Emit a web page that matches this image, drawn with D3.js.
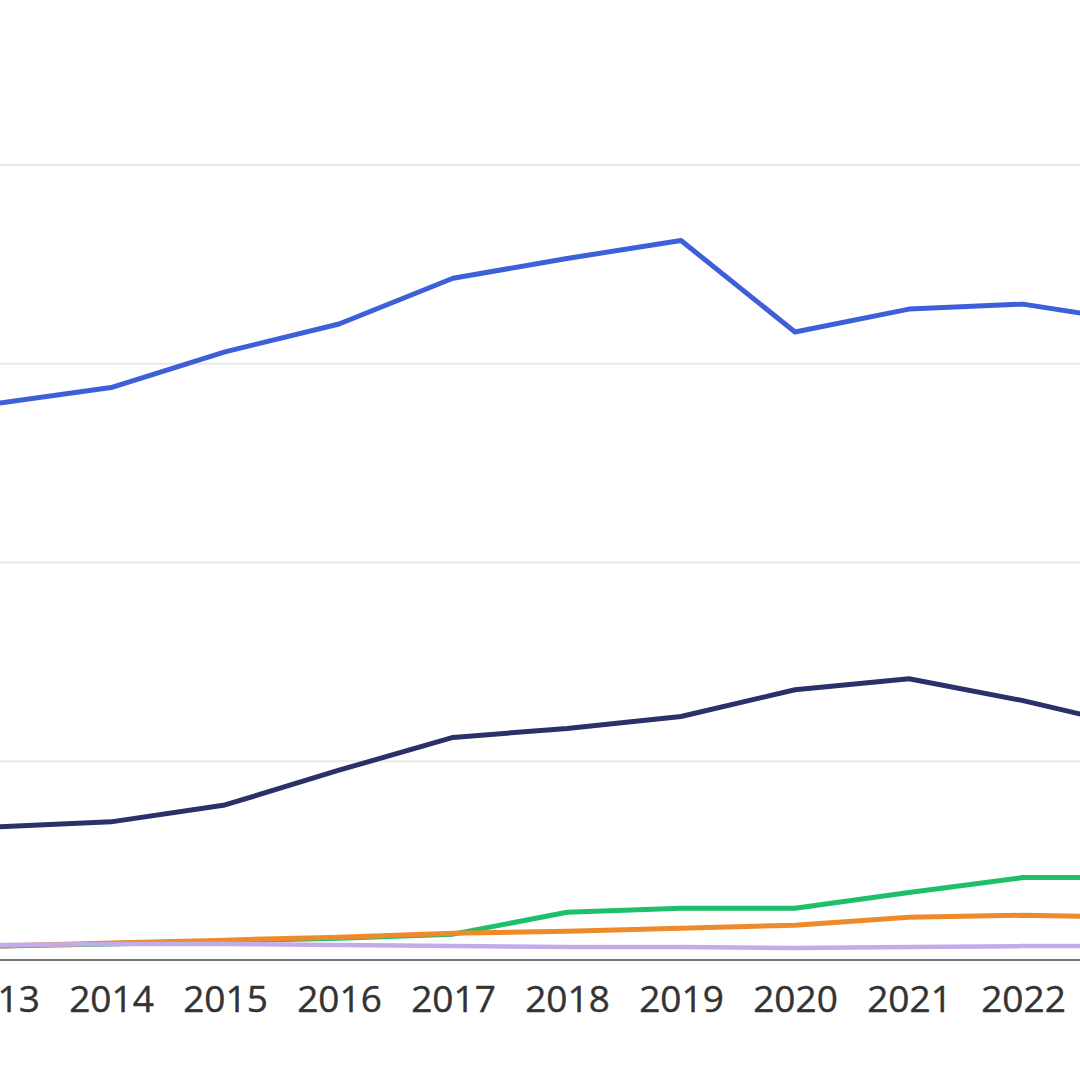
<!DOCTYPE html>
<html>
<head>
<meta charset="utf-8">
<script src="https://cdn.jsdelivr.net/npm/d3@7"></script>
<style>
  html, body { margin: 0; padding: 0; background: #fff; overflow: hidden; }
  svg { display: block; }
</style>
</head>
<body>
<svg id="chart" width="1080" height="1080"></svg>
<script>
// ---- Dados (unidade: divisões de grade x100)
const years = [2013, 2014, 2015, 2016, 2017, 2018, 2019, 2020, 2021, 2022, 2023];
const tickYears = [2013, 2014, 2015, 2016, 2017, 2018, 2019, 2020, 2021, 2022];
const yTicks = [0, 100, 200, 300, 400, 500];

const serieAzul    = [280, 288, 306, 320, 343, 353, 362, 316, 327.5, 330, 321];
const serieMarinho = [67, 69.5, 78, 95.5, 112, 116.5, 122.5, 136, 141.5, 130.5, 117];
const serieVerde   = [7, 8, 9.5, 11, 13, 24, 26, 26, 34, 41.5, 41.5];
const serieLaranja = [7, 8.5, 10, 11.5, 13.5, 14.5, 16, 17.5, 21.5, 22.5, 21.5];
const serieLilas   = [7.5, 8, 8, 7.5, 7, 6.5, 6.5, 6, 6.5, 7, 7];

const series = [
    { name: 'azul', values: serieAzul, color: '#3d5fd9', width: 5 },
    { name: 'marinho', values: serieMarinho, color: '#2a3068', width: 5 },
    { name: 'verde', values: serieVerde, color: '#1dbf69', width: 5 },
    { name: 'laranja', values: serieLaranja, color: '#ef8a2b', width: 5 },
    { name: 'lilas', values: serieLilas, color: '#c3abe9', width: 4.5 }
];

const svg = d3.select('#chart');

// ---- Escalas (o gráfico original está recortado nas bordas)
const x = d3.scaleLinear()
    .domain([2013, 2023])
    .range([-3, 1137]);

const y = d3.scaleLinear()
    .domain([0, 500])
    .range([960, 960 - 5 * 198.75]);

// ---- Grade horizontal
svg.append('g')
    .selectAll('line')
    .data(yTicks.filter(d => d > 0))
    .join('line')
    .attr('x1', -100).attr('x2', 1200)
    .attr('y1', d => y(d)).attr('y2', d => y(d))
    .attr('stroke', '#e8e8e8')
    .attr('stroke-width', 2);

// ---- Eixo X
svg.append('g')
    .attr('transform', `translate(0, ${y(0)})`)
    .call(d3.axisBottom(x).tickValues(tickYears).tickFormat(d3.format('d')).tickSize(0).tickPadding(26))
    .call(g => g.select('.domain')
        .attr('d', 'M-100,0H1200')
        .attr('stroke', '#777')
        .attr('stroke-width', 2))
    .call(g => g.selectAll('text')
        .attr('fill', '#333')
        .attr('font-family', '"Open Sans", sans-serif')
        .attr('font-size', '37px')
        .attr('stroke', '#333')
        .attr('stroke-width', 0.4));

// ---- Linhas
const line = d3.line()
    .x((d, i) => x(years[i]))
    .y(d => y(d));

svg.append('g')
    .selectAll('path')
    .data(series)
    .join('path')
    .attr('d', d => line(d.values))
    .attr('fill', 'none')
    .attr('stroke', d => d.color)
    .attr('stroke-width', d => d.width)
    .attr('stroke-linejoin', 'round')
    .attr('stroke-linecap', 'round');
</script>
</body>
</html>
